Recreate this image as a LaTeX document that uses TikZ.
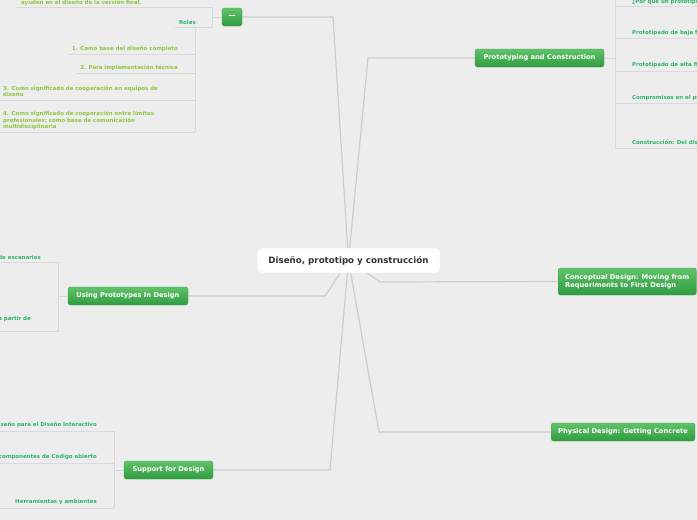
\documentclass[tikz,border=0pt]{standalone}
\usepackage{fontspec}
\setmainfont{DejaVu Sans}
\definecolor{bgc}{HTML}{EDEDED}
\definecolor{gtop}{HTML}{62C26A}
\definecolor{gbot}{HTML}{2E9C3F}
\definecolor{gedge}{HTML}{3AA048}
\definecolor{rootc}{HTML}{333333}
\definecolor{rootedge}{HTML}{E2E2E2}
\definecolor{leafc}{HTML}{2DB56A}
\definecolor{limec}{HTML}{8DC63F}
\definecolor{mainc}{HTML}{CDCDCD}
\definecolor{subc}{HTML}{D9D9D9}
\tikzset{
  topic/.style={rounded corners=2.5pt, top color=gtop, bottom color=gbot, draw=gedge,
    line width=0.4pt, text=white, font=\fontsize{6.7}{8.2}\selectfont\bfseries,
    inner xsep=7pt, inner ysep=0pt, minimum height=18pt},
  root/.style={rounded corners=4pt, fill=white, draw=rootedge, text=rootc,
    font=\fontsize{8.7}{10}\selectfont\bfseries, minimum width=183pt, minimum height=25pt},
  leaf/.style={inner sep=0pt, font=\fontsize{5.45}{6.6}\selectfont\bfseries, text=leafc},
  lime/.style={leaf, text=limec},
  mainline/.style={draw=mainc, line width=1.2pt},
  subline/.style={draw=subc, line width=1pt},
}
\begin{document}
\begin{tikzpicture}[x=1pt,y=-1pt]
  \fill[bgc] (0,0) rectangle (697,520);
  \useasboundingbox (0,0) rectangle (697,520);
  \clip (0,0) rectangle (697,520);

  % main topics
  \node[topic, minimum width=20pt, inner xsep=0pt] (minus) at (232,17) {\rule[2.5pt]{5.5pt}{1pt}};
  \node[topic, minimum width=129pt] (proto) at (539.5,58) {Prototyping and Construction};
  \node[topic, minimum width=120pt] (using) at (128,296) {Using Prototypes In Design};
  \node[topic, minimum height=27pt, align=left, anchor=west] (concept) at (558,281.5)
    {Conceptual Design: Moving from\\Requeriments to First Design};
  \node[topic, anchor=west] (physical) at (551,432) {Physical Design: Getting Concrete};
  \node[topic, minimum width=89pt] (support) at (168.5,470) {Support for Design};

  % top left branch
  \node[lime, anchor=west] (final) at (21,3) {ayuden en el diseño de la versión final.};
  \node[leaf, anchor=east] (roles) at (196,22) {Roles};
  \node[lime, anchor=east] (r1) at (178,49) {1. Como base del diseño completo};
  \node[lime, anchor=east] (r2) at (178,68) {2. Para implementación técnica};
  \node[lime, anchor=west, align=left] (r3) at (3,91.5)
    {3. Como significado de cooperación en equipos de\\diseño};
  \node[lime, anchor=west, align=left] (r4) at (3,120.5)
    {4. Como significado de cooperación entre límites\\profesionales; como base de comunicación\\multidisciplinaria};

  % top right branch
  \node[leaf, anchor=west] (p0) at (632,2) {¿Por qué un prototipo?};
  \node[leaf, anchor=west] (p1) at (632,33) {Prototipado de baja fidelidad};
  \node[leaf, anchor=west] (p2) at (632,65) {Prototipado de alta fidelidad};
  \node[leaf, anchor=west] (p3) at (632,98) {Compromisos en el prototipado};
  \node[leaf, anchor=west] (p4) at (632,143) {Construcción: Del diseño al producto};

  % middle left branch
  \node[leaf, anchor=east] (u1) at (41,257) {de escenarios};
  \node[leaf, anchor=east] (u2) at (31,319) {a partir de};

  % bottom left branch
  \node[leaf, anchor=east] (s1) at (97,425) {Diseño para el Diseño Interactivo};
  \node[leaf, anchor=east] (s2) at (97,457) {componentes de Código abierto};
  \node[leaf, anchor=east] (s3) at (97,502) {Herramientas y ambientes};

  % connectors from the central topic
  \coordinate (hub) at (348.5,260.5);
  \draw[mainline] (hub) -- (333,17) -- (minus.east);
  \draw[mainline] (hub) -- (368,58) -- (proto.west);
  \draw[mainline] (hub) -- (325,296) -- (using.east);
  \draw[mainline] (hub) -- (380,282) -- (concept.west);
  \draw[mainline] (hub) -- (379,432) -- (physical.west);
  \draw[mainline] (hub) -- (330,470) -- (support.east);

  % sub branches
  \draw[subline] (minus.west) -- (212,17);
  \draw[subline] (16,7) -- (212,7) -- (212,27) -- (175,27);
  \draw[subline] (195,27) -- (195,132);
  \draw[subline] (69,54) -- (195,54);
  \draw[subline] (77,73) -- (195,73);
  \draw[subline] (0,100) -- (195,100);
  \draw[subline] (0,132) -- (195,132);

  \draw[subline] (proto.east) -- (615,58);
  \draw[subline] (615,0) -- (615,148);
  \foreach \y in {6,38,71,103,148}
    \draw[subline] (615,\y) -- (697,\y);

  \draw[subline] (using.west) -- (58,296);
  \draw[subline] (0,262) -- (58,262) -- (58,331) -- (0,331);

  \draw[subline] (support.west) -- (114,470);
  \draw[subline] (114,431) -- (114,508);
  \foreach \y in {431,463,508}
    \draw[subline] (0,\y) -- (114,\y);

  % central topic
  \node[root] (root) at (hub) {Diseño, prototipo y construcción};
\end{tikzpicture}
\end{document}
